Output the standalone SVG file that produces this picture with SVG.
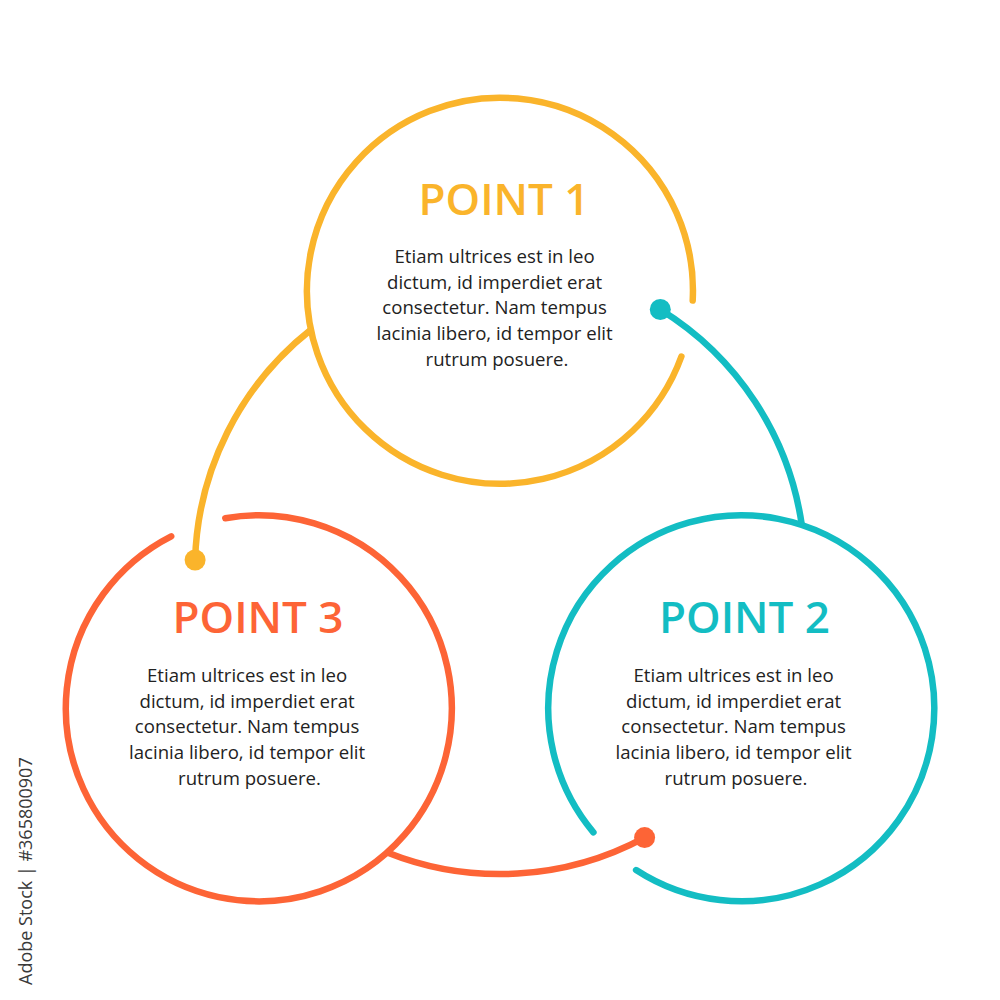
<svg xmlns="http://www.w3.org/2000/svg" width="1000" height="1000" viewBox="0 0 1000 1000">
  <defs>
    <style>
      .ring { fill: none; stroke-width: 6.5; stroke-linecap: round; }
      .conn { fill: none; stroke-width: 6.5; stroke-linecap: butt; }
      .yellow { stroke: #FAB42B; }
      .teal { stroke: #13BDC3; }
      .orange { stroke: #FD6436; }
      .title { font-family: "Open Sans", "Noto Sans", sans-serif; font-size: 44px; font-weight: 600; text-anchor: middle; }
      .body { font-family: "Open Sans", "Noto Sans", sans-serif; font-size: 18.6px; fill: #222222; text-anchor: middle; }
      .wm { font-family: "Open Sans", "Noto Sans", sans-serif; font-size: 18px; fill: #3a3a3a; }
    </style>
  </defs>
  <rect width="1000" height="1000" fill="#ffffff"/>

  <g id="connectors">
    <path class="conn yellow" d="M 195.1 560 A 305 305 0 0 1 311.0 329.6"/>
    <path class="conn teal" d="M 660.3 309.5 A 305 305 0 0 1 801.8 525.0"/>
    <path class="conn orange" d="M 644.6 837.6 A 305 305 0 0 1 387.2 852.4"/>
    <circle cx="195.1" cy="560" r="10.5" fill="#FAB42B"/>
    <circle cx="660.3" cy="309.5" r="10.5" fill="#13BDC3"/>
    <circle cx="644.6" cy="837.6" r="10.5" fill="#FD6436"/>
  </g>

  <g id="point1">
    <path class="ring yellow" d="M 681.4 356.5 A 193 193 0 1 1 692.7 300.6"/>
    <text class="title" x="504" y="215" fill="#FAB42B">POINT 1</text>
    <text class="body" x="497" y="263">
      <tspan x="497" y="263">Etiam ultrices est in leo</tspan>
      <tspan x="497" y="288.7">dictum, id imperdiet erat</tspan>
      <tspan x="497" y="314.4">consectetur. Nam tempus</tspan>
      <tspan x="497" y="340.1">lacinia libero, id tempor elit</tspan>
      <tspan x="497" y="365.8">rutrum posuere.</tspan>
    </text>
  </g>

  <g id="point2">
    <path class="ring teal" d="M 593.4 832.3 A 193 193 0 1 1 636.1 870.1"/>
    <text class="title" x="744.5" y="633" fill="#13BDC3">POINT 2</text>
    <text class="body" x="736" y="682">
      <tspan x="736" y="682">Etiam ultrices est in leo</tspan>
      <tspan x="736" y="707.7">dictum, id imperdiet erat</tspan>
      <tspan x="736" y="733.4">consectetur. Nam tempus</tspan>
      <tspan x="736" y="759.1">lacinia libero, id tempor elit</tspan>
      <tspan x="736" y="784.8">rutrum posuere.</tspan>
    </text>
  </g>

  <g id="point3">
    <path class="ring orange" d="M 225.3 518.2 A 193 193 0 1 1 171.2 536.3"/>
    <text class="title" x="258" y="633" fill="#FD6436">POINT 3</text>
    <text class="body" x="249.5" y="682">
      <tspan x="249.5" y="682">Etiam ultrices est in leo</tspan>
      <tspan x="249.5" y="707.7">dictum, id imperdiet erat</tspan>
      <tspan x="249.5" y="733.4">consectetur. Nam tempus</tspan>
      <tspan x="249.5" y="759.1">lacinia libero, id tempor elit</tspan>
      <tspan x="249.5" y="784.8">rutrum posuere.</tspan>
    </text>
  </g>

  <text class="wm" transform="translate(32 985) rotate(-90)">Adobe Stock | #365800907</text>
</svg>
